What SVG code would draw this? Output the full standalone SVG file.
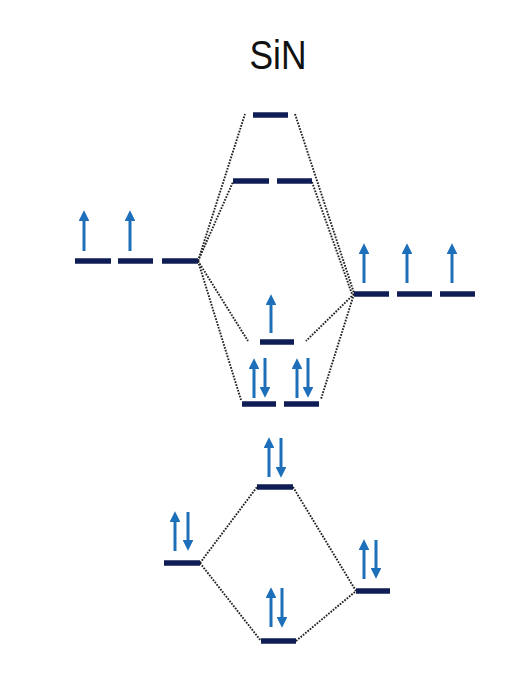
<svg xmlns="http://www.w3.org/2000/svg" width="507" height="694" viewBox="0 0 507 694">
<defs>
<style>
.lv{stroke:#0f1d55;stroke-width:5.5;fill:none}
.dt{stroke:#222;stroke-width:1.9;stroke-dasharray:1.7 1.3;fill:none}
.up{stroke:#1d6fba;stroke-width:3;fill:none;marker-end:url(#ah)}
.t{font-family:"Liberation Sans",Arial,sans-serif;font-size:40px;fill:#111}
</style>
<marker id="ah" viewBox="0 0 10 10" refX="2" refY="5" markerWidth="3.6" markerHeight="3.6" orient="auto" markerUnits="strokeWidth">
<path d="M0,0 L10,5 L0,10 z" fill="#1d6fba"/>
</marker>
</defs>
<rect width="507" height="694" fill="#fff"/>
<text class="t" x="278" y="69" text-anchor="middle" textLength="57" lengthAdjust="spacingAndGlyphs">SiN</text>
<g id="connectors">
<path class="dt" d="M198,261 L245,114"/>
<path class="dt" d="M198,261 L233,182"/>
<path class="dt" d="M295,114 L354,293"/>
<path class="dt" d="M312,182 L352,294"/>
<path class="dt" d="M198,261 L248,341"/>
<path class="dt" d="M198,261 L241,400"/>
<path class="dt" d="M354,294 L306,341"/>
<path class="dt" d="M354,294 L321,399"/>
<path class="dt" d="M200,563 L257,487"/>
<path class="dt" d="M200,563 L261,641"/>
<path class="dt" d="M293,487 L356,591"/>
<path class="dt" d="M296,641 L356,591"/>
</g>
<g id="si-p">
<line class="lv" x1="75" y1="261" x2="111" y2="261"/>
<line class="lv" x1="118" y1="261" x2="153" y2="261"/>
<line class="lv" x1="162" y1="261" x2="198" y2="261"/>
<line class="up" x1="84" y1="251" x2="84" y2="219"/>
<line class="up" x1="130" y1="251" x2="130" y2="219"/>
</g>
<g id="n-p">
<line class="lv" x1="354" y1="294" x2="389" y2="294"/>
<line class="lv" x1="397" y1="294" x2="432" y2="294"/>
<line class="lv" x1="440" y1="294" x2="475" y2="294"/>
<line class="up" x1="364" y1="283" x2="364" y2="252"/>
<line class="up" x1="407" y1="283" x2="407" y2="252"/>
<line class="up" x1="452" y1="283" x2="452" y2="252"/>
</g>
<g id="sigma-star-p">
<line class="lv" x1="253" y1="115" x2="288" y2="115"/>
</g>
<g id="pi-star">
<line class="lv" x1="233" y1="181" x2="269" y2="181"/>
<line class="lv" x1="277" y1="181" x2="312" y2="181"/>
</g>
<g id="sigma-p">
<line class="lv" x1="260" y1="342" x2="294" y2="342"/>
<line class="up" x1="271" y1="333" x2="271" y2="303"/>
</g>
<g id="pi">
<line class="lv" x1="242" y1="404" x2="276" y2="404"/>
<line class="lv" x1="284" y1="404" x2="319" y2="404"/>
<line class="up" x1="254" y1="398" x2="254" y2="367"/>
<line class="up" x1="265" y1="358" x2="265" y2="389"/>
<line class="up" x1="297" y1="398" x2="297" y2="367"/>
<line class="up" x1="308" y1="358" x2="308" y2="389"/>
</g>
<g id="sigma-star-s">
<line class="lv" x1="257" y1="487" x2="293" y2="487"/>
<line class="up" x1="269" y1="477" x2="269" y2="446"/>
<line class="up" x1="281" y1="438" x2="281" y2="469"/>
</g>
<g id="si-s">
<line class="lv" x1="164" y1="563" x2="200" y2="563"/>
<line class="up" x1="175" y1="551" x2="175" y2="520"/>
<line class="up" x1="188" y1="512" x2="188" y2="542"/>
</g>
<g id="n-s">
<line class="lv" x1="356" y1="591" x2="390" y2="591"/>
<line class="up" x1="364" y1="579" x2="364" y2="548"/>
<line class="up" x1="376" y1="540" x2="376" y2="570"/>
</g>
<g id="sigma-s">
<line class="lv" x1="261" y1="641" x2="296" y2="641"/>
<line class="up" x1="271" y1="627" x2="271" y2="596"/>
<line class="up" x1="282" y1="588" x2="282" y2="619"/>
</g>
</svg>
